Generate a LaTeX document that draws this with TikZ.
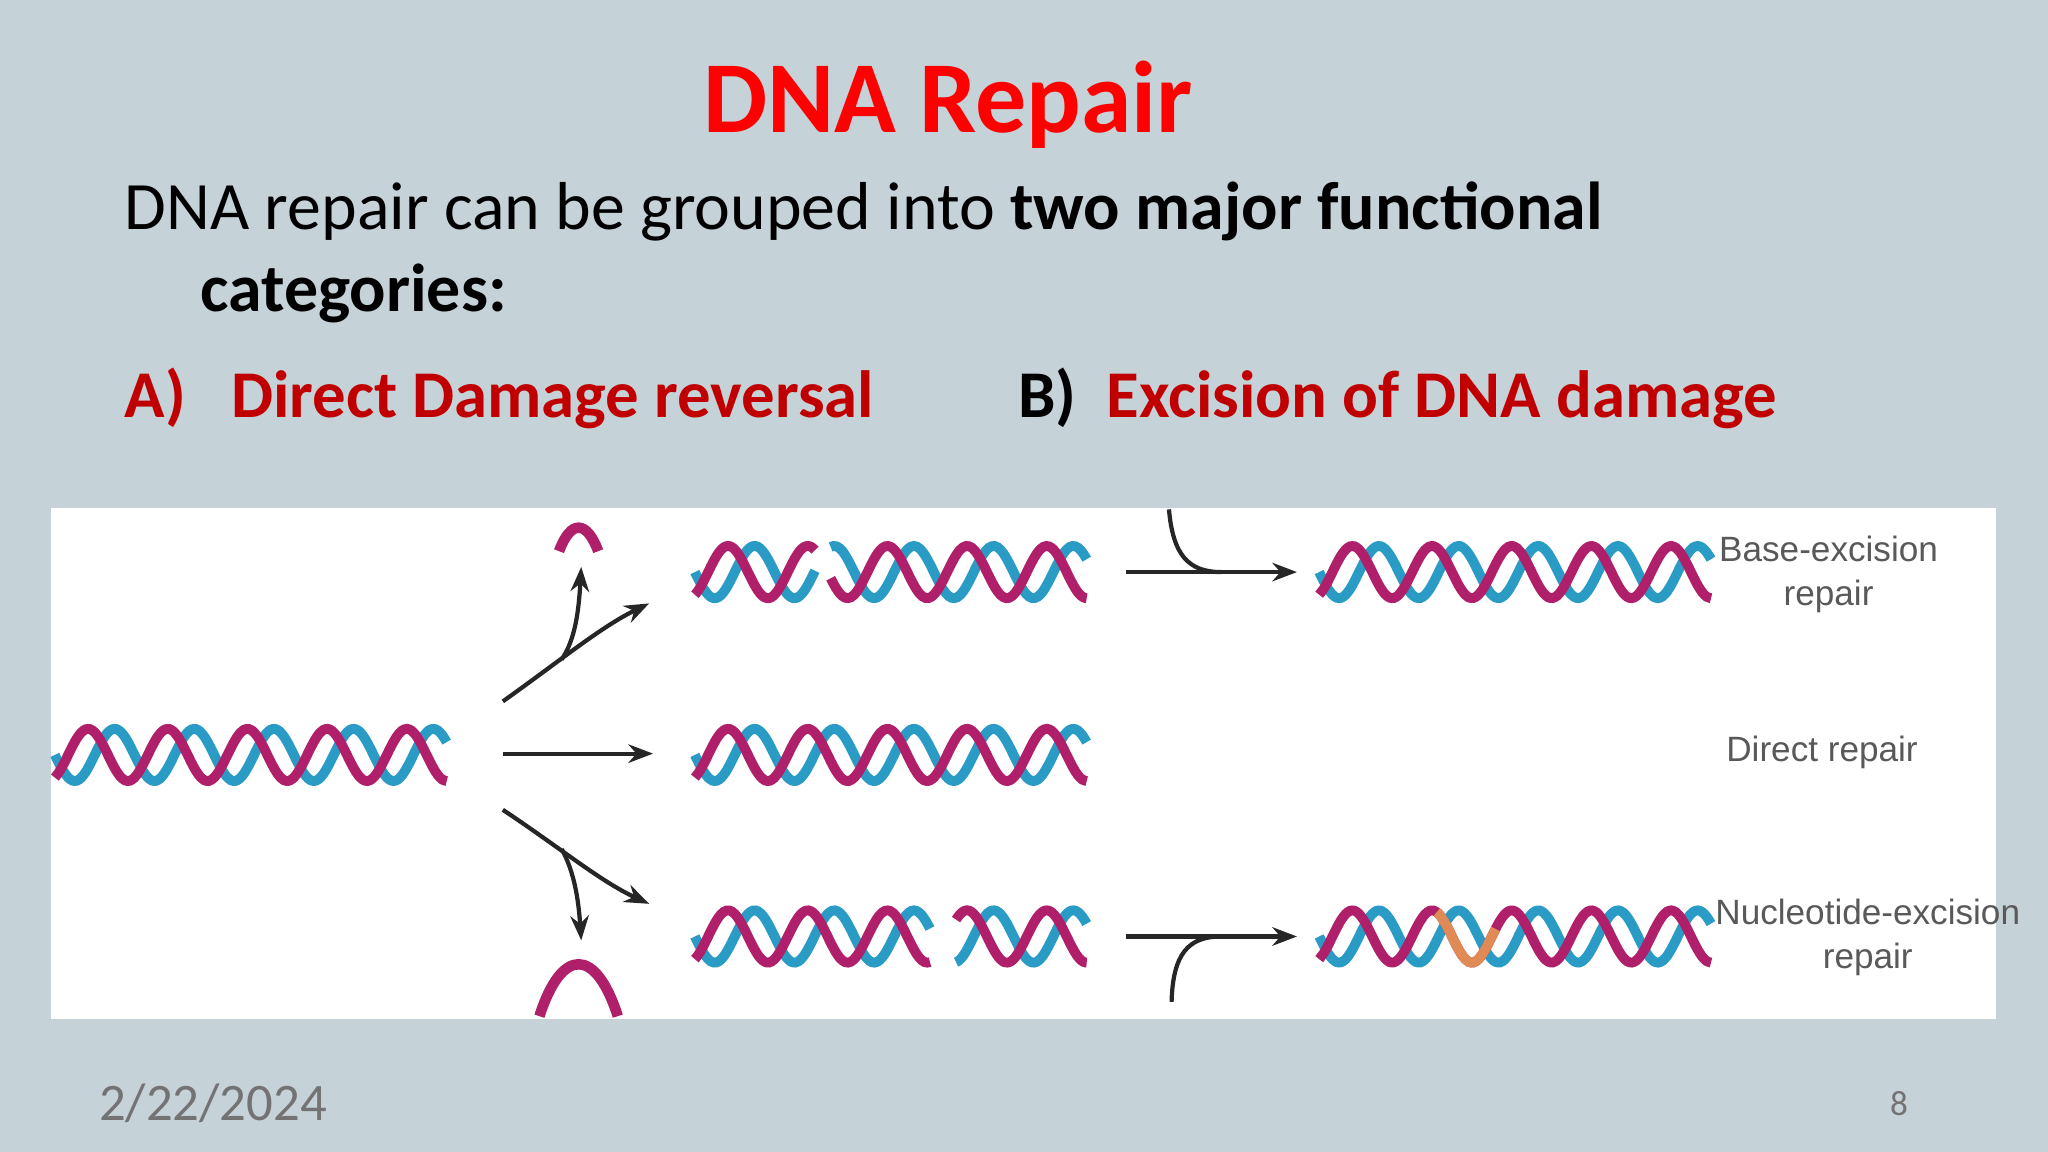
\documentclass[tikz,border=0pt]{standalone}
\usepackage{fontspec}
\usetikzlibrary{arrows.meta}
\setmainfont{Carlito}
\newfontfamily\lab{Liberation Sans}
\definecolor{bg}{HTML}{C5D2D8}
\definecolor{dred}{HTML}{C00000}
\definecolor{hblue}{HTML}{2A9BC4}
\definecolor{hmag}{HTML}{B0206A}
\definecolor{horange}{HTML}{E08A55}
\newcommand\myhelix[5]{%
 \draw[hblue,line width=2.8pt,domain=#3:#4,samples=90,smooth] plot ({#1+\x},{#2+20*sin(\x/61*360)});
 \draw[#5,line width=2.8pt,domain=#3:#4,samples=90,smooth] plot ({#1+\x},{#2+20*sin(\x/61*360+120)});
}
\tikzset{arr/.style={-{Stealth[length=7pt]},line width=1.2pt,black!85},
 lab/.style={font=\lab\fontsize{10}{12.5}\selectfont,text=black!65,align=center}}
\begin{document}
\begin{tikzpicture}[x=0.013061cm,y=-0.013061cm]
\fill[bg] (0,0) rectangle (1568,882);
\useasboundingbox (0,0) rectangle (1568,882);
\node[text=red,font=\bfseries\fontsize{29}{33}\selectfont] (title) at (726,80) {DNA Repair};
\node[anchor=west,font=\fontsize{19.3}{23}\selectfont] (l1) at (86,162) {DNA repair can be grouped into \textbf{two major functional}};
\node[anchor=west,font=\bfseries\fontsize{19.3}{23}\selectfont] (l2) at (144,225) {categories:};
\node[anchor=west,font=\bfseries\fontsize{19}{22}\selectfont,text=dred] (a) at (86,305) {A)\ \ \ Direct Damage reversal};
\node[anchor=west,font=\bfseries\fontsize{19}{22}\selectfont] (b) at (770,305) {B)\ \ \textcolor{dred}{Excision of DNA damage}};
\fill[white] (39,389) rectangle (1528,780);
\myhelix{42}{578}{0}{300}{hmag}
\myhelix{532}{438}{0}{92}{hmag}
\myhelix{532}{438}{104}{300}{hmag}
\myhelix{532}{578}{0}{300}{hmag}
\myhelix{532}{717}{0}{180}{hmag}
\myhelix{532}{717}{200}{300}{hmag}
\myhelix{1010}{438}{0}{300}{hmag}
\myhelix{1010}{717}{0}{300}{hmag}
\draw[horange,line width=2.8pt,domain=90:135,samples=30,smooth] plot ({1010+\x},{717+20*sin(\x/61*360+120)});
\draw[hmag,line width=3pt] (428,422) .. controls (437,398) and (449,398) .. (458,422);
\draw[hmag,line width=3pt] (413,778) .. controls (430,725) and (456,725) .. (473,778);
\coordinate (s1) at (385,537); \coordinate (e1) at (497,462);
\coordinate (br1) at (430,505); \coordinate (p1) at (445,434);
\draw[arr] (s1) .. controls (430,505) and (460,480) .. (e1);
\draw[arr] (br1) .. controls (440,490) and (443,470) .. (p1);
\coordinate (s2) at (385,577); \coordinate (e2) at (500,577);
\draw[arr] (s2) -- (e2);
\coordinate (s3) at (385,620); \coordinate (e3) at (497,692);
\coordinate (br3) at (430,650); \coordinate (p3) at (445,720);
\draw[arr] (s3) .. controls (430,650) and (460,675) .. (e3);
\draw[arr] (br3) .. controls (440,668) and (443,690) .. (p3);
\coordinate (s4) at (862,438); \coordinate (e4) at (993,438); \coordinate (c4) at (895,390);
\draw[arr] (s4) -- (e4);
\draw[line width=1.2pt,black!85] (c4) .. controls (898,425) and (910,438) .. (935,438);
\coordinate (s5) at (862,717); \coordinate (e5) at (993,717); \coordinate (c5) at (897,767);
\draw[arr] (s5) -- (e5);
\draw[line width=1.2pt,black!85] (c5) .. controls (898,730) and (910,717) .. (935,717);
\node[lab] (t1) at (1400,440) {Base-excision\\repair};
\node[lab] (t2) at (1395,576) {Direct repair};
\node[lab] (t3) at (1430,718) {Nucleotide-excision\\repair};
\node[text=black!55,font=\fontsize{15}{18}\selectfont] (date) at (163,845) {2/22/2024};
\node[text=black!55,font=\fontsize{10}{12}\selectfont] (pg) at (1454,845) {8};
\end{tikzpicture}
\end{document}
